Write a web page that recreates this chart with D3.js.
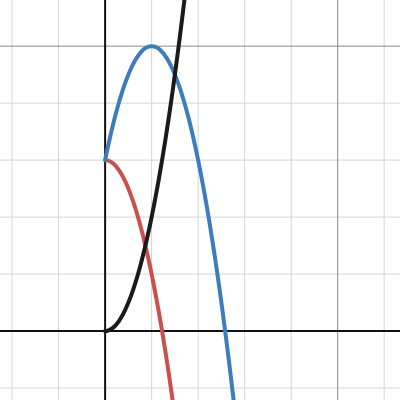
<!DOCTYPE html>
<html><head><meta charset="utf-8">
<script src="https://cdn.jsdelivr.net/npm/d3@7"></script>
<style>body{margin:0}svg{display:block;background:#fff}</style>
</head><body><svg width="400" height="400"></svg>
<script>
const xDomain=[-2.26,6.34], yDomain=[-1.21,5.81];
const minorTicksX=[-2,-1,1,2,3,4,6], minorTicksY=[-1,1,2,3,4];
const majorTicksX=[5], majorTicksY=[5];
// sampled curve values (x from 0 by 0.05)
const xs=d3.range(0,3.01,0.05);
const blackY=xs.map(x=>2*x*x);
const blueY=xs.map(x=>3+4*x-2*x*x);
const redY=xs.map(x=>3-2*x*x);
const colors={black:"#1a1a1a",blue:"#3d7dbd",red:"#c9504b"};
const svg=d3.select("svg");
const x=d3.scaleLinear().domain(xDomain).range([0,400]);
const y=d3.scaleLinear().domain(yDomain).range([400,0]);
const g=svg.append("g");
g.selectAll(".mx").data(minorTicksX).join("line").attr("x1",x).attr("x2",x).attr("y1",0).attr("y2",400).attr("stroke","#d4d4d4").attr("stroke-width",1);
g.selectAll(".my").data(minorTicksY).join("line").attr("y1",y).attr("y2",y).attr("x1",0).attr("x2",400).attr("stroke","#d4d4d4").attr("stroke-width",1);
g.selectAll(".Mx").data(majorTicksX).join("line").attr("x1",x).attr("x2",x).attr("y1",0).attr("y2",400).attr("stroke","#8a8a8a").attr("stroke-width",1);
g.selectAll(".My").data(majorTicksY).join("line").attr("y1",y).attr("y2",y).attr("x1",0).attr("x2",400).attr("stroke","#8a8a8a").attr("stroke-width",1);
g.append("line").attr("x1",x(0)).attr("x2",x(0)).attr("y1",0).attr("y2",400).attr("stroke","#111").attr("stroke-width",2);
g.append("line").attr("y1",y(0)).attr("y2",y(0)).attr("x1",0).attr("x2",400).attr("stroke","#111").attr("stroke-width",2);
const line=d3.line().x(d=>x(d[0])).y(d=>y(d[1])).curve(d3.curveMonotoneX);
[[redY,colors.red],[blueY,colors.blue],[blackY,colors.black]].forEach(([ys,c])=>{
  svg.append("path").datum(xs.map((v,i)=>[v,ys[i]])).attr("d",d3.line().x(d=>x(d[0])).y(d=>y(d[1])).curve(d3.curveCatmullRom))
   .attr("fill","none").attr("stroke",c).attr("stroke-width",4).attr("stroke-linecap","round");
});
</script></body></html>
